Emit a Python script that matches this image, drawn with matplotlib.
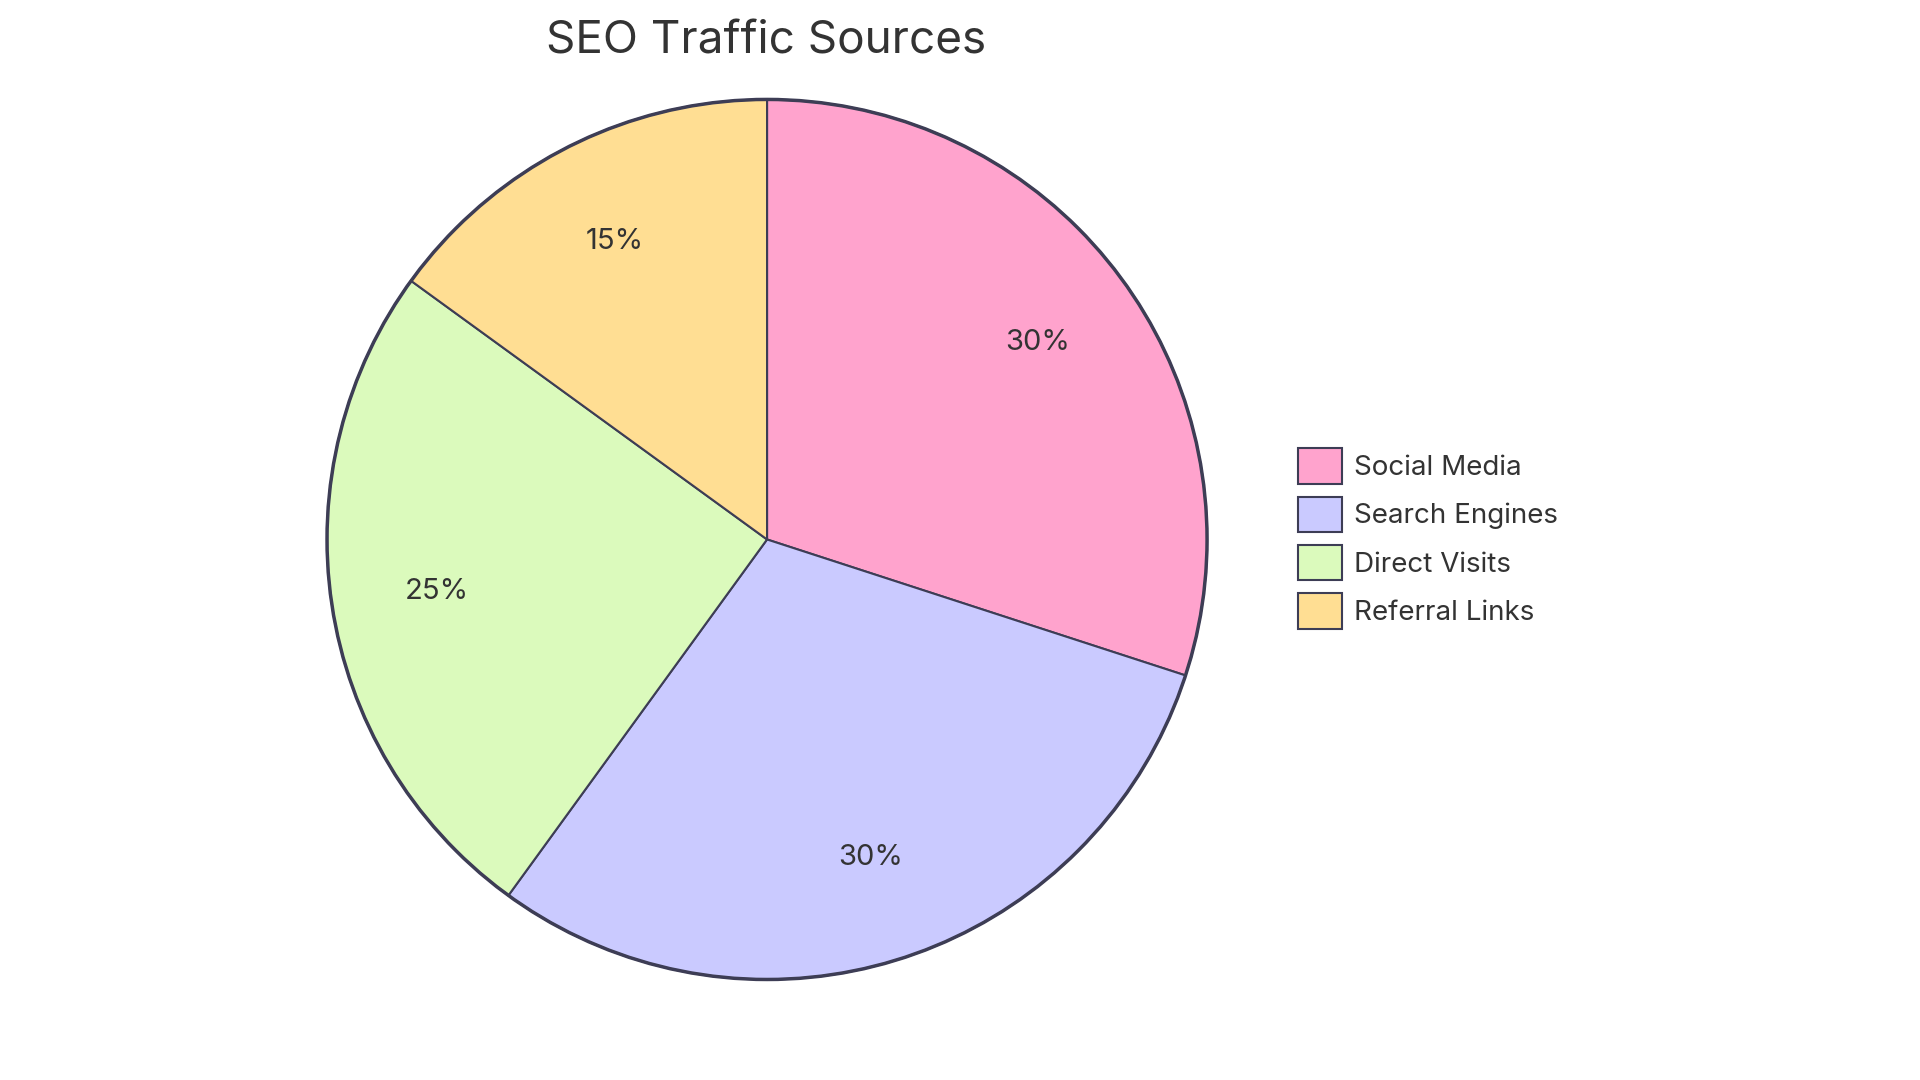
import matplotlib
matplotlib.use("Agg")
import matplotlib.pyplot as plt

labels = ["Social Media", "Search Engines", "Direct Visits", "Referral Links"]
values = [30, 30, 25, 15]
colors = ["#FFA3CD", "#CACAFF", "#DBFABC", "#FFDE93"]

plt.rcParams['font.family'] = ['Inter', 'DejaVu Sans']
fig = plt.figure(figsize=(19.2, 10.8), dpi=100)
ax = fig.add_axes([0.168, 0.089, 0.463, 0.823])
wedges, texts, autotexts = ax.pie(values, colors=colors, startangle=90, counterclock=False,
                                  autopct='%1.0f%%', pctdistance=0.76,
                                  wedgeprops=dict(edgecolor="#3d3d55", linewidth=1.5),
                                  textprops=dict(fontsize=21, color="#333333"))
ax.add_patch(plt.Circle((0, 0), 1.0, fill=False, edgecolor="#3d3d55", linewidth=2.5))
ax.set_aspect('equal')
ax.set_xlim(-1.01, 1.01); ax.set_ylim(-1.01, 1.01)
ax.axis('off')
fig.text(0.399, 0.962, "SEO Traffic Sources", ha='center', va='center', fontsize=33, color="#333333")
fig.legend(wedges, labels, loc='upper left', bbox_to_anchor=(0.663, 0.608), frameon=False,
           fontsize=20, handlelength=1.6, handleheight=1.6, labelspacing=0.45,
           handletextpad=0.4, labelcolor="#333333")
fig.savefig("out.png", dpi=100)
